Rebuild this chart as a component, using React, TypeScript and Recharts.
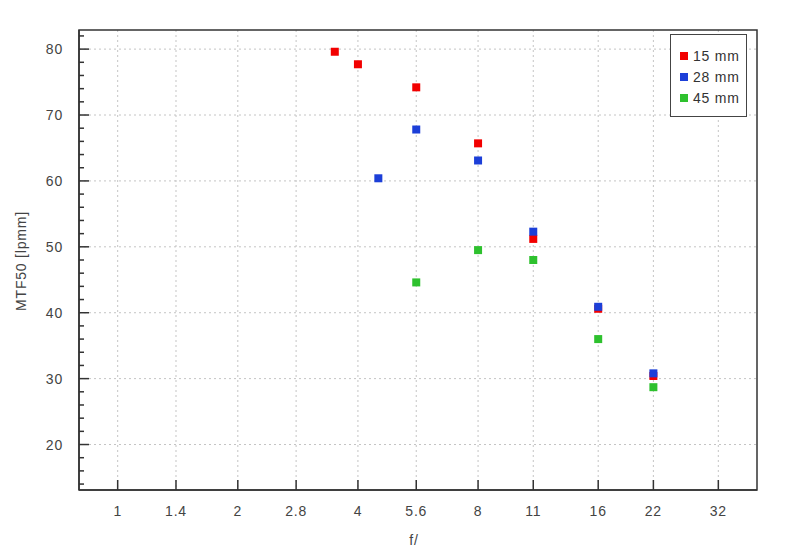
import { ScatterChart, Scatter, XAxis, YAxis, CartesianGrid, ReferenceArea } from 'recharts';

const fStops15 = [3.5, 4, 5.6, 8, 11, 16, 22];
const mtf15 = [79.6, 77.7, 74.2, 65.7, 51.2, 40.6, 30.4];
const fStops28 = [4.5, 5.6, 8, 11, 16, 22];
const mtf28 = [60.4, 67.8, 63.1, 52.3, 40.9, 30.8];
const fStops45 = [5.6, 8, 11, 16, 22];
const mtf45 = [44.6, 49.5, 48.0, 36.0, 28.7];

const xTicks = [1, 1.4, 2, 2.8, 4, 5.6, 8, 11, 16, 22, 32];
const yMajor = [20, 30, 40, 50, 60, 70, 80];
const yTicks = [14, 16, 18, 20, 22, 24, 26, 28, 30, 32, 34, 36, 38, 40, 42, 44, 46, 48, 50, 52, 54, 56, 58, 60, 62, 64, 66, 68, 70, 72, 74, 76, 78, 80, 82];

const X_DOMAIN = [0.8, 40];
const Y_DOMAIN = [13.1, 82.9];

const series = [
  { name: '15 mm', color: '#f20000', f: fStops15, v: mtf15 },
  { name: '28 mm', color: '#1c3fd8', f: fStops28, v: mtf28 },
  { name: '45 mm', color: '#2ec12e', f: fStops45, v: mtf45 },
];

const FONT = '"Liberation Sans", Arial, sans-serif';
const AXIS = '#333';
const TEXT = '#444';

const toPoints = (f: number[], v: number[]) => f.map((x, i) => ({ f: x, mtf: v[i] }));

const XTick = ({ x, y, payload }: any) => (
  <g>
    <line x1={x} x2={x} y1={y} y2={y - 10} stroke={AXIS} strokeWidth={1.5} />
    <text x={x} y={y + 26} textAnchor="middle" fontSize={14} letterSpacing={0.8} fill={TEXT} fontFamily={FONT}>
      {payload.value}
    </text>
  </g>
);

const YTick = ({ x, y, payload }: any) => {
  const major = payload.value % 10 === 0;
  return (
    <g>
      <line x1={x} x2={x + (major ? 10 : 5)} y1={y} y2={y} stroke={AXIS} strokeWidth={1.5} />
      {major && (
        <text x={x - 16} y={y + 5} textAnchor="end" fontSize={14} letterSpacing={0.8} fill={TEXT} fontFamily={FONT}>
          {payload.value}
        </text>
      )}
    </g>
  );
};

const square = (color: string) => (props: any) => (
  <rect x={props.cx - 4} y={props.cy - 4} width={8} height={8} fill={color} />
);

export default function App() {
  return (
    <div style={{ position: 'absolute', left: 0, top: 0, width: 785, height: 560, background: '#fff' }}>
      <ScatterChart width={785} height={560} margin={{ top: 30, right: 28, bottom: 40, left: 19 }}>
        <CartesianGrid
          stroke="#c4c4c4"
          strokeDasharray="2 3"
          horizontalValues={yMajor}
          verticalValues={xTicks}
        />
        <XAxis
          dataKey="f"
          type="number"
          scale="log"
          domain={X_DOMAIN}
          ticks={xTicks}
          allowDataOverflow
          height={30}
          tickSize={0}
          tickMargin={0}
          tickLine={false}
          tick={<XTick />}
          axisLine={{ stroke: AXIS, strokeWidth: 1.5 }}
        />
        <YAxis
          dataKey="mtf"
          type="number"
          domain={Y_DOMAIN}
          ticks={yTicks}
          allowDataOverflow
          width={60}
          tickSize={0}
          tickMargin={0}
          tickLine={false}
          tick={<YTick />}
          interval={0}
          axisLine={{ stroke: AXIS, strokeWidth: 1.5 }}
        />
        <ReferenceArea
          x1={X_DOMAIN[0]}
          x2={X_DOMAIN[1]}
          y1={Y_DOMAIN[0]}
          y2={Y_DOMAIN[1]}
          fill="none"
          fillOpacity={0}
          stroke={AXIS}
          strokeWidth={1.5}
        />
        {series.map((s) => (
          <Scatter
            key={s.name}
            name={s.name}
            data={toPoints(s.f, s.v)}
            fill={s.color}
            shape={square(s.color)}
            isAnimationActive={false}
          />
        ))}
      </ScatterChart>
      <div
        style={{
          position: 'absolute',
          left: 670,
          top: 34,
          width: 77,
          height: 83,
          border: '1.5px solid #444',
          background: '#fff',
          fontFamily: FONT,
          fontSize: 14,
          letterSpacing: 0.8,
          color: '#333',
          boxSizing: 'border-box',
          paddingTop: 11,
          paddingLeft: 9,
        }}
      >
        {series.map((s) => (
          <div key={s.name} style={{ display: 'flex', alignItems: 'center', height: 20.7 }}>
            <span style={{ width: 8, height: 8, background: s.color, marginRight: 5, display: 'inline-block' }} />
            <span>{s.name}</span>
          </div>
        ))}
      </div>
      <div
        style={{
          position: 'absolute',
          left: 21,
          top: 261,
          transform: 'translate(-50%, -50%) rotate(-90deg)',
          fontFamily: FONT,
          fontSize: 14,
          letterSpacing: 0.8,
          color: TEXT,
          whiteSpace: 'nowrap',
        }}
      >
        MTF50 [lpmm]
      </div>
      <div
        style={{
          position: 'absolute',
          left: 414,
          top: 540,
          transform: 'translate(-50%, -50%)',
          fontFamily: FONT,
          fontSize: 14,
          letterSpacing: 0.8,
          color: TEXT,
        }}
      >
        f/
      </div>
    </div>
  );
}
